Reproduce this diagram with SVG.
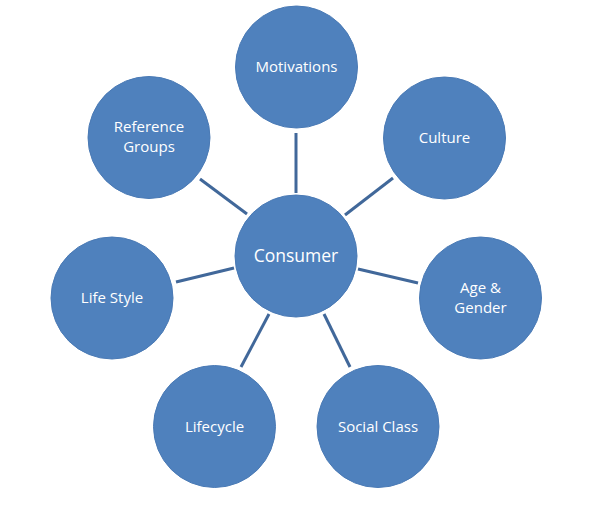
<svg xmlns="http://www.w3.org/2000/svg" width="589" height="516" viewBox="0 0 589 516">
<style>
.n{fill:#4F81BD;stroke:#4A7AB5;stroke-width:1}
.t{fill:#FFFFFF;font-family:"Open Sans","Liberation Sans",sans-serif;font-size:15px;text-anchor:middle}
.c{font-size:17.5px}
.l{stroke:#41689A;stroke-width:3;fill:none}
</style>
<rect width="589" height="516" fill="#FFFFFF"/>
<g id="connectors">
<line class="l" x1="296" y1="133" x2="296" y2="193"/>
<line class="l" x1="393" y1="178" x2="345" y2="215"/>
<line class="l" x1="418" y1="283" x2="358" y2="269"/>
<line class="l" x1="350" y1="367" x2="324" y2="314"/>
<line class="l" x1="269" y1="314" x2="241" y2="367"/>
<line class="l" x1="176" y1="282" x2="234" y2="268"/>
<line class="l" x1="200" y1="179" x2="247" y2="214"/>
</g>
<g id="consumer"><circle class="n" cx="296" cy="256" r="61"/><text class="t c" x="296" y="262">Consumer</text></g>
<g id="motivations"><circle class="n" cx="296.5" cy="67" r="61"/><text class="t" x="296.5" y="72">Motivations</text></g>
<g id="culture"><circle class="n" cx="444.5" cy="138" r="61"/><text class="t" x="444.5" y="143">Culture</text></g>
<g id="age-gender"><circle class="n" cx="480.5" cy="298" r="61"/><text class="t" x="480.5" y="293">Age &amp;</text><text class="t" x="480.5" y="313">Gender</text></g>
<g id="social-class"><circle class="n" cx="378" cy="426.5" r="61"/><text class="t" x="378" y="432">Social Class</text></g>
<g id="lifecycle"><circle class="n" cx="214.5" cy="426.5" r="61"/><text class="t" x="214.5" y="432">Lifecycle</text></g>
<g id="life-style"><circle class="n" cx="112" cy="298" r="61"/><text class="t" x="112" y="303">Life Style</text></g>
<g id="reference-groups"><circle class="n" cx="149" cy="137.5" r="61"/><text class="t" x="149" y="132">Reference</text><text class="t" x="149" y="152">Groups</text></g>
</svg>
